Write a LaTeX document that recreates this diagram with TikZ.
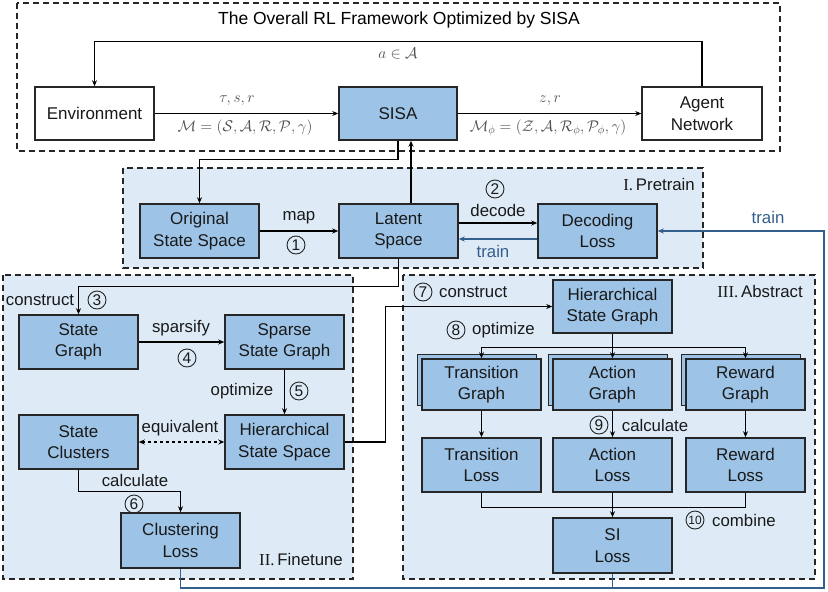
\documentclass[tikz,border=0pt]{standalone}
\usepackage{fix-cm}
\usepackage{fontspec}
\setmainfont{Liberation Sans}
\newfontfamily\romfont{Liberation Serif}
\usetikzlibrary{arrows.meta}
\definecolor{boxfill}{RGB}{157,195,230}
\definecolor{regfill}{RGB}{222,235,247}
\definecolor{edgec}{RGB}{38,38,38}
\definecolor{trainc}{RGB}{52,94,140}
\definecolor{mathc}{RGB}{80,80,80}
\begin{document}
\begin{tikzpicture}[x=1pt,y=-1pt,
 box/.style={draw=edgec, fill=boxfill, line width=1.5pt, minimum width=119pt, minimum height=54pt, inner sep=0pt, align=center, font=\fontsize{17}{21.5}\selectfont, text=black!90},
 wbox/.style={box, fill=white},
 region/.style={draw=edgec, line width=1.5pt, dash pattern=on 6pt off 4pt},
 conn/.style={draw=black, line width=1.3pt, -{Stealth[length=6pt,width=5pt]}},
 wire/.style={draw=black, line width=1.3pt},
 lab/.style={font=\fontsize{16.8}{19}\selectfont, inner sep=0pt, text=black!90},
 num/.style={circle, draw=black!85, line width=0.9pt, minimum size=18pt, inner sep=0pt, font=\fontsize{15.5}{15.5}\selectfont, text=black!90},
 numten/.style={num, font=\fontsize{12}{12}\selectfont},
 mlab/.style={font=\fontsize{15.5}{18}\selectfont, text=mathc, inner sep=0pt},
 trainw/.style={draw=trainc, line width=1.3pt},
 trainarr/.style={trainw, -{Stealth[length=6pt,width=5pt]}},
]
\useasboundingbox (0,0) rectangle (828,592);
% regions
\path[region] (17,3) rectangle (780,151);
\path[region, fill=regfill] (123,168) rectangle (703,268);
\path[region, fill=regfill] (3,275) rectangle (353,579);
\path[region, fill=regfill] (403,275) rectangle (815,579);

\node[font=\fontsize{17.5}{20}\selectfont, inner sep=0pt] (title) at (399,20) {The Overall RL Framework Optimized by SISA};
\node[lab, anchor=east, font=\romfont\fontsize{16.8}{19}\selectfont] (lpre) at (695,185) {I.\,\fontspec{Liberation Sans}Pretrain};
\node[lab, anchor=east, font=\romfont\fontsize{16.8}{19}\selectfont] (lfin) at (343,560) {II.\,\fontspec{Liberation Sans}Finetune};
\node[lab, anchor=east, font=\romfont\fontsize{16.8}{19}\selectfont] (labs) at (803,292) {III.\,\fontspec{Liberation Sans}Abstract};

% top row
\node[wbox, minimum height=53pt] (env) at (94.5,113.5) {Environment};
\node[box, minimum width=118pt, minimum height=53pt] (sisa) at (398,113.5) {SISA};
\node[wbox, minimum width=120pt, minimum height=53pt] (agent) at (702,113.5) {Agent\\Network};

% pretrain
\node[box] (orig) at (199.5,231) {Original\\State Space};
\node[box] (latent) at (398.5,231) {Latent\\Space};
\node[box] (decl) at (597.5,231) {Decoding\\Loss};

% finetune
\node[box] (sg) at (78.5,342) {State\\Graph};
\node[box] (ssg) at (284.5,342) {Sparse\\State Graph};
\node[box] (sc) at (78.5,442) {State\\Clusters};
\node[box] (hss) at (284.5,442) {Hierarchical\\State Space};
\node[box, minimum height=55pt] (cl) at (180.5,540.5) {Clustering\\Loss};

% abstract
\node[box, minimum height=53pt] (hsg) at (612.5,306.5) {Hierarchical\\State Graph};
\node[box, minimum height=51pt] (tgb) at (477,380) {};
\node[box, minimum height=51pt] (agb) at (608,380) {};
\node[box, minimum height=51pt] (rgb) at (741,380) {};
\node[box, minimum height=51pt] (tg) at (481.5,384.5) {Transition\\Graph};
\node[box, minimum height=51pt] (ag) at (612.5,384.5) {Action\\Graph};
\node[box, minimum height=51pt] (rg) at (745.5,384.5) {Reward\\Graph};
\node[box] (tl) at (481.5,465) {Transition\\Loss};
\node[box] (al) at (612.5,465) {Action\\Loss};
\node[box] (rl) at (745.5,465) {Reward\\Loss};
\node[box, minimum height=55pt] (si) at (612.5,545.5) {SI\\Loss};

% top connectors
\draw[conn] (agent.north) -- ++(0,-45) -| (env.north);
\node[mlab] (la) at (398,54) {$a\in\mathcal{A}$};
\draw[conn] (env.east) -- (sisa.west);
\node[mlab] (ltau) at (237,101) {$\tau,s,r$};
\node[mlab] (lm) at (245,128) {$\mathcal{M}=(\mathcal{S},\mathcal{A},\mathcal{R},\mathcal{P},\gamma)$};
\draw[conn] (sisa.east) -- (agent.west);
\node[mlab] (lz) at (550,101) {$z,r$};
\node[mlab] (lmp) at (548,128) {$\mathcal{M}_\phi=(\mathcal{Z},\mathcal{A},\mathcal{R}_\phi,\mathcal{P}_\phi,\gamma)$};

% pretrain connectors
\draw[conn] (sisa.south) -- ++(0,19) -| (orig.north);
\draw[conn] ([xshift=12.5pt]latent.north) -- ([xshift=12.5pt]latent.north |- sisa.south);
\draw[conn] (orig.east) -- (latent.west);
\node[lab] (lmap) at (299,218) {map};
\node[num] (n1) at (296,245) {1};
\draw[conn] ([yshift=8pt]latent.east) -- ([yshift=8pt]decl.west);
\node[num] (n2) at (495,189) {2};
\node[lab] (ldec) at (498,210) {decode};
\draw[trainarr] ([yshift=-8pt]decl.west) -- ([yshift=-8pt]latent.east);
\node[lab, text=trainc] (ltr1) at (493,251) {train};

% finetune connectors
\draw[conn] (latent.south) -- ++(0,28) -| (sg.north);
\node[lab] (lcon) at (40,300) {construct};
\node[num] (n3) at (97,300) {3};
\draw[conn] (sg.east) -- (ssg.west);
\node[lab] (lsp) at (181,328) {sparsify};
\node[num] (n4) at (187,358) {4};
\draw[conn] (ssg.south) -- (hss.north);
\node[lab] (lopt) at (242,391) {optimize};
\node[num] (n5) at (299,391) {5};
\draw[wire, dashed, {Stealth[length=6pt,width=5pt]}-{Stealth[length=6pt,width=5pt]}] (sc.east) -- (hss.west);
\node[lab] (leq) at (180,428) {equivalent};
\draw[conn] (sc.south) -- ++(0,22) -| (cl.north);
\node[lab] (lcalc) at (135,480) {calculate};
\node[num] (n6) at (134,504) {6};

% abstract connectors
\draw[conn] (hss.east) -- ++(41,0) |- (hsg.west);
\node[num] (n7) at (423,292) {7};
\node[lab, anchor=west] (lcon2) at (439,292) {construct};
\node[num] (n8) at (456,330) {8};
\node[lab, anchor=west] (lopt2) at (472,330) {optimize};
\draw[wire] (hsg.south) -- ++(0,14) coordinate (br);
\draw[conn] (br) -| (tg.north);
\draw[conn] (br) -| (rg.north);
\draw[conn] (br) -- (ag.north);
\draw[conn] (tg.south) -- (tl.north);
\draw[conn] (ag.south) -- (al.north);
\draw[conn] (rg.south) -- (rl.north);
\node[num] (n9) at (599,425) {9};
\node[lab] (lcalc2) at (655,425) {calculate};
\draw[wire] (tl.south) -- ++(0,15) -| (rl.south);
\draw[conn] (al.south) -- (si.north);
\node[numten] (n10) at (695,520) {10};
\node[lab, anchor=west] (lcomb) at (712,520) {combine};

% train feedback
\coordinate (tr) at (824,588);
\draw[trainarr] (cl.south) |- (tr) |- (decl.east);
\draw[trainw] (si.south) -- (si.south |- tr);
\node[lab, text=trainc] (ltr2) at (768,217) {train};
\end{tikzpicture}
\end{document}
